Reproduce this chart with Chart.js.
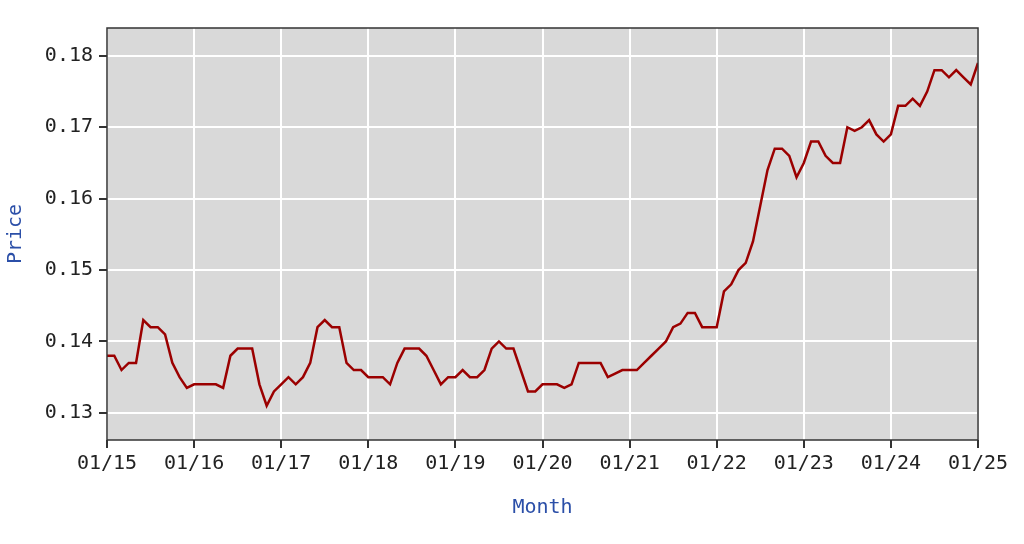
<!DOCTYPE html>
<html>
<head>
<meta charset="utf-8">
<script src="https://cdn.jsdelivr.net/npm/chart.js@4"></script>
<style>
  html, body { margin: 0; padding: 0; background: #fff; }
  #wrap { width: 1024px; height: 544px; }
</style>
</head>
<body>
<div id="wrap"><canvas id="chart" width="1024" height="544"></canvas></div>
<script>
// ── Data ───────────────────────────────────────────────
const years = ['15', '16', '17', '18', '19', '20', '21', '22', '23', '24', '25'];
const yTicks = [0.13, 0.14, 0.15, 0.16, 0.17, 0.18];
const prices = [
  0.138, 0.138, 0.136, 0.137, 0.137, 0.143, 0.142, 0.142, 0.141, 0.137, 0.135, 0.1335,
  0.134, 0.134, 0.134, 0.134, 0.1335, 0.138, 0.139, 0.139, 0.139, 0.134, 0.131, 0.133,
  0.134, 0.135, 0.134, 0.135, 0.137, 0.142, 0.143, 0.142, 0.142, 0.137, 0.136, 0.136,
  0.135, 0.135, 0.135, 0.134, 0.137, 0.139, 0.139, 0.139, 0.138, 0.136, 0.134, 0.135,
  0.135, 0.136, 0.135, 0.135, 0.136, 0.139, 0.140, 0.139, 0.139, 0.136, 0.133, 0.133,
  0.134, 0.134, 0.134, 0.1335, 0.134, 0.137, 0.137, 0.137, 0.137, 0.135, 0.1355, 0.136,
  0.136, 0.136, 0.137, 0.138, 0.139, 0.140, 0.142, 0.1425, 0.144, 0.144, 0.142, 0.142,
  0.142, 0.147, 0.148, 0.150, 0.151, 0.154, 0.159, 0.164, 0.167, 0.167, 0.166, 0.163,
  0.165, 0.168, 0.168, 0.166, 0.165, 0.165, 0.170, 0.1695, 0.170, 0.171, 0.169, 0.168,
  0.169, 0.173, 0.173, 0.174, 0.173, 0.175, 0.178, 0.178, 0.177, 0.178, 0.177, 0.176,
  0.179
];

const points = prices.map((v, i) => ({ x: i, y: v }));
const tickFont = { family: 'DejaVu Sans Mono', size: 20 };
const titleFont = { family: 'DejaVu Sans Mono', size: 20 };

// plot background + frame
const frame = {
  id: 'frame',
  beforeDraw(chart) {
    const { ctx, chartArea: a } = chart;
    ctx.save();
    ctx.fillStyle = '#d9d9d9';
    ctx.fillRect(a.left, a.top, a.right - a.left, a.bottom - a.top);
    ctx.restore();
  },
  afterDraw(chart) {
    const { ctx, chartArea: a } = chart;
    ctx.save();
    ctx.strokeStyle = '#333';
    ctx.lineWidth = 1.5;
    ctx.strokeRect(a.left, a.top, a.right - a.left, a.bottom - a.top);
    ctx.restore();
  }
};

new Chart(document.getElementById('chart'), {
  type: 'line',
  data: {
    datasets: [{
      data: points,
      borderColor: '#9b0000',
      borderWidth: 2.5,
      pointRadius: 0,
      tension: 0,
    }],
  },
  options: {
    responsive: false,
    animation: false,
    layout: { padding: { top: 28, right: 46, left: 0, bottom: 20 } },
    plugins: { legend: { display: false }, tooltip: { enabled: false } },
    scales: {
      x: {
        type: 'linear',
        min: 0,
        max: 120,
        afterBuildTicks: (s) => { s.ticks = years.map((_, i) => ({ value: i * 12 })); },
        afterFit: (s) => { s.height = 84; },
        ticks: {
          font: tickFont,
          color: '#222',
          maxRotation: 0,
          padding: 4,
          callback: (v) => '01/' + years[v / 12],
        },
        grid: { color: '#ffffff', lineWidth: 2, drawTicks: true, tickLength: 8, tickColor: '#333' },
        border: { display: false },
        title: { display: true, text: 'Month', color: '#2b4fa8', font: titleFont, padding: { top: 8 } },
      },
      y: {
        min: 0.1262,
        max: 0.1839,
        afterBuildTicks: (s) => { s.ticks = yTicks.map(v => ({ value: v })); },
        afterFit: (s) => { s.width = 107; },
        ticks: {
          font: tickFont,
          color: '#222',
          padding: 6,
          callback: (v) => v.toFixed(2),
        },
        grid: { color: '#ffffff', lineWidth: 2, drawTicks: true, tickLength: 8, tickColor: '#333' },
        border: { display: false },
        title: { display: true, text: 'Price', color: '#2b4fa8', font: titleFont, padding: { bottom: 2 } },
      },
    },
  },
  plugins: [frame],
});
</script>
</body>
</html>
